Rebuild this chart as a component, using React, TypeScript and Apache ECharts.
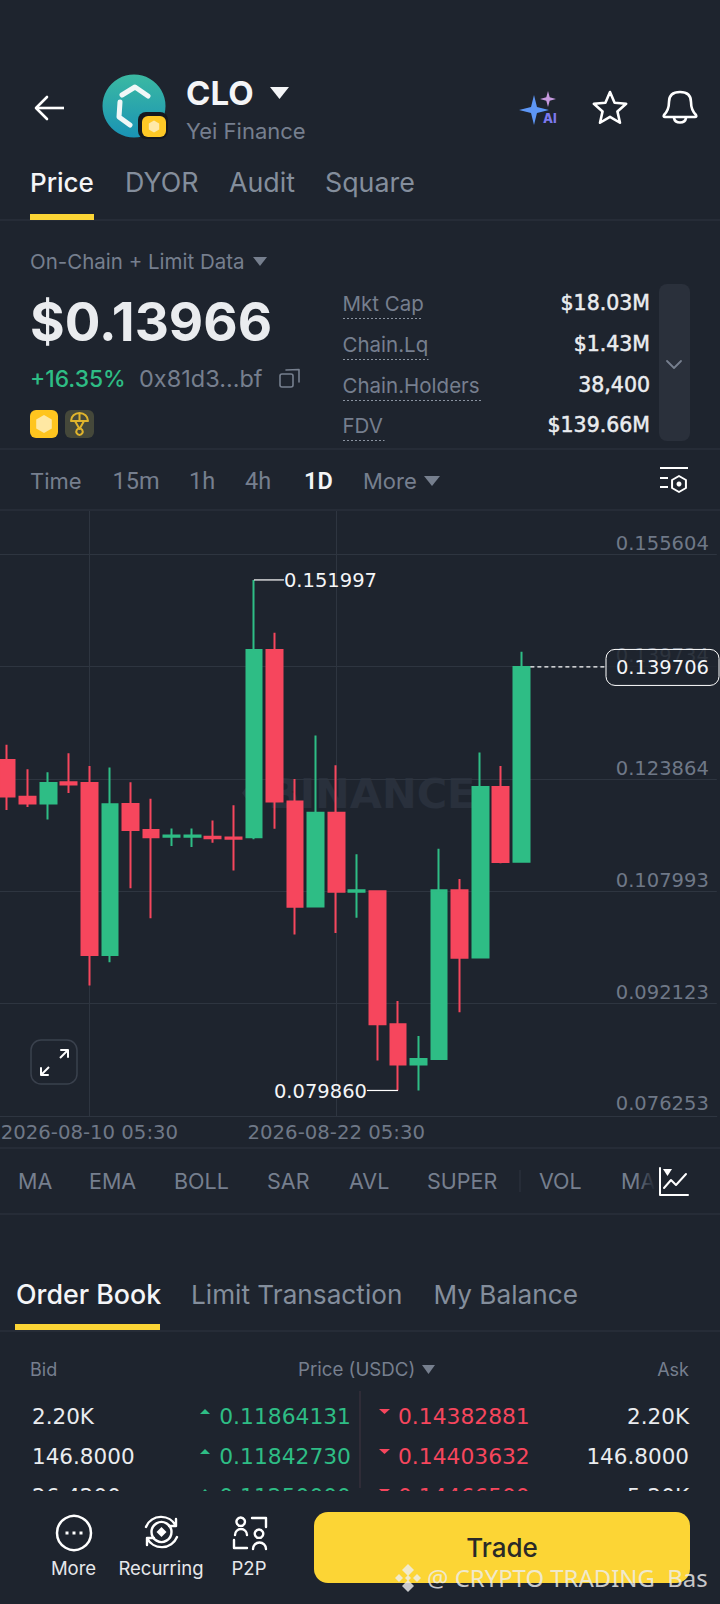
import React, { useEffect, useRef } from "react";
import * as echarts from "echarts";

// ---------- data ----------
const dates = [
  "2026-08-06 05:30","2026-08-07 05:30","2026-08-08 05:30","2026-08-09 05:30","2026-08-10 05:30",
  "2026-08-11 05:30","2026-08-12 05:30","2026-08-13 05:30","2026-08-14 05:30","2026-08-15 05:30",
  "2026-08-16 05:30","2026-08-17 05:30","2026-08-18 05:30","2026-08-19 05:30","2026-08-20 05:30",
  "2026-08-21 05:30","2026-08-22 05:30","2026-08-23 05:30","2026-08-24 05:30","2026-08-25 05:30",
  "2026-08-26 05:30","2026-08-27 05:30","2026-08-28 05:30","2026-08-29 05:30","2026-08-30 05:30",
  "2026-08-31 05:30","2026-09-01 05:30","2026-09-02 05:30","2026-09-03 05:30","2026-09-04 05:30",
  "2026-09-05 05:30","2026-09-06 05:30","2026-09-07 05:30","2026-09-08 05:30","2026-09-09 05:30",
];
const opens = [0.126546,0.12135,0.1204,0.123417,0.123305,0.098998,0.120344,0.116656,0.115706,0.115706,0.115706,0.115594,0.11565,0.142081,0.120679,0.105871,0.119114,0.107938,0.107993,0.089219,0.083519,0.084301,0.108162,0.098662,0.122747,0.112185];
const closes = [0.121405,0.1204,0.123305,0.123082,0.098998,0.120288,0.116656,0.11565,0.115874,0.115874,0.115482,0.115426,0.142081,0.120679,0.105815,0.119114,0.107938,0.108162,0.089219,0.083519,0.084301,0.108162,0.098606,0.122747,0.112129,0.139706];
const lows = [0.119506,0.119897,0.118164,0.121908,0.094695,0.097992,0.108441,0.104194,0.11442,0.114253,0.114867,0.110956,0.11537,0.116823,0.101903,0.105871,0.102127,0.10425,0.084078,0.07986,0.07986,0.084189,0.090895,0.098662,0.111962,0.112185];
const highs = [0.128726,0.125261,0.124814,0.127496,0.125708,0.125485,0.123417,0.12107,0.116879,0.116879,0.117997,0.120176,0.151997,0.14454,0.123864,0.130011,0.12582,0.113247,0.107993,0.092515,0.087542,0.114029,0.109727,0.127608,0.125708,0.141858];
const yTicks = [0.076253,0.092123,0.107993,0.123864,0.139734,0.155604];
const xLabelIndexes = [4,16];
const highMark = [12,0.151997];
const lowMark = [19,0.07986];
const lastMark = [25,0.139706];

const topTabs = ["Price","DYOR","Audit","Square"];
const intervals = ["Time","15m","1h","4h","1D","More"];
const statNames = ["Mkt Cap","Chain.Lq","Chain.Holders","FDV"];
const statValues = ["$18.03M","$1.43M","38,400","$139.66M"];
const indicators = ["MA","EMA","BOLL","SAR","AVL","SUPER","VOL","MA"];
const bookTabs = ["Order Book","Limit Transaction","My Balance"];
const bidSizes = ["2.20K","146.8000","26.4200"];
const bidPrices = ["0.11864131","0.11842730","0.11250000"];
const askPrices = ["0.14382881","0.14403632","0.14466500"];
const askSizes = ["2.20K","146.8000","5.20K"];
const footerItems = ["More","Recurring","P2P"];

// ---------- style ----------
const BG = "#1E242E";
const GRID = "#2E3540";
const GREY = "#848E9C";
const GREY2 = "#767F8E";
const WHITE = "#EAECEF";
const GREEN = "#2EBD85";
const RED = "#F6465D";
const YELLOW = "#FCD535";
const FONT = "Inter, Roboto, sans-serif";
const DJ = "'DejaVu Sans', sans-serif";
const RB = "Roboto, sans-serif";

const T = (text: string, x: number, y: number, size: number, fill: string, weight: any = 400, align = "left", font = FONT) => ({
  type: "text", x, y, silent: true,
  style: { text, fill, fontSize: size, fontWeight: weight, fontFamily: font, align, verticalAlign: "middle" },
});
const L = (x1: number, y1: number, x2: number, y2: number, stroke = GRID, lineWidth = 1, lineDash?: number[]) => ({
  type: "line", silent: true, shape: { x1, y1, x2, y2 }, style: { stroke, lineWidth, lineDash },
});
const R = (x: number, y: number, width: number, height: number, fill: any, r = 0, stroke?: string, lineWidth = 1) => ({
  type: "rect", silent: true, shape: { x, y, width, height, r }, style: { fill, stroke, lineWidth },
});
const P = (points: number[][], stroke = "#fff", lineWidth = 2.5) => ({
  type: "polyline", silent: true, shape: { points }, style: { stroke, lineWidth, fill: "none", lineCap: "round", lineJoin: "round" },
});
const Tri = (x1: number, x2: number, y1: number, y2: number, fill: string, up = false) => ({
  type: "polygon", silent: true,
  shape: { points: up ? [[x1, y2], [x2, y2], [(x1 + x2) / 2, y1]] : [[x1, y1], [x2, y1], [(x1 + x2) / 2, y2]] },
  style: { fill },
});
const C = (cx: number, cy: number, r: number, fill: any, stroke?: string, lineWidth = 2.5) => ({
  type: "circle", silent: true, shape: { cx, cy, r }, style: { fill, stroke, lineWidth },
});
const starPts = (cx: number, cy: number, ro: number, ri: number, n: number) => {
  const pts: number[][] = [];
  for (let i = 0; i < n * 2; i++) {
    const r = i % 2 ? ri : ro;
    const a = -Math.PI / 2 + (i * Math.PI) / n;
    pts.push([cx + r * Math.cos(a), cy + r * Math.sin(a)]);
  }
  return pts;
};
const Poly = (points: number[][], fill: any, stroke?: string, lineWidth = 2.5) => ({
  type: "polygon", silent: true, shape: { points }, style: { fill, stroke, lineWidth, lineJoin: "round" },
});
const Shape = (name: string, stroke: string, lineWidth: number, fill = "none") => ({
  type: name, silent: true, x: 0, y: 0, style: { stroke, lineWidth, fill, lineCap: "round", lineJoin: "round" },
});
const Hex = (cx: number, cy: number, r: number) => {
  const pts: number[][] = [];
  for (let i = 0; i < 6; i++) {
    const a = -Math.PI / 2 + (i * Math.PI) / 3;
    pts.push([cx + r * Math.cos(a), cy + r * Math.sin(a)]);
  }
  return pts;
};

echarts.graphic.registerShape("bellIcon", echarts.graphic.extendPath(
  "M664 115 C668 111 669 107 669 102 C669 95 673 92 680 92 C687 92 691 95 691 102 C691 107 692 111 696 115 Q697 117 695 117 H665 Q663 117 664 115 Z M674 118 C675 124 685 124 686 118", {}));
const p2p = "M240.7 1517.5 a4.2 4.2 0 1 0 0.01 0 Z M235 1535 a6 6 0 0 1 12 0 M252 1518 H266 V1527 M259 1529.5 a4.2 4.2 0 1 0 0.01 0 Z M253 1549 a6.5 6.5 0 0 1 13 0 M234 1540 V1548 H247";
echarts.graphic.registerShape("p2pIcon", echarts.graphic.extendPath(p2p, {}));
echarts.graphic.registerShape("paraIcon", echarts.graphic.extendPath(
  "M71 421 a8.5 8 0 0 1 17 0 Z M79.5 413 V421 M75 421 L79.5 429 L84 421 M79.5 428.5 a3.2 3.2 0 1 0 0.01 0 Z", {}));
echarts.graphic.registerShape("recurIcon", echarts.graphic.extendPath(
  "M146 1527 A16.5 16.5 0 0 1 176 1526 M177 1537 A16.5 16.5 0 0 1 147 1538 M176 1526 L176 1519 M176 1526 L169 1526 M147 1538 L147 1545 M147 1538 L154 1538", {}));

const topTabX = [30, 125, 229, 325];
const intervalX = [30, 112.5, 189, 245, 304, 363];
const statY = [303, 344, 385, 425];
const statUnder = [422, 428.5, 481, 384.5];
const indX = [18, 89, 174, 267, 349, 427, 539, 621];
const bookTabX = [16, 191, 433.5];
const rowY = [1416, 1456, 1496];
const footerX = [73.5, 161, 249];

function chromeGraphics() {
  const g: any[] = [];
  // watermark
  g.push(Poly([[252, 779], [262, 793], [252, 807], [242, 793]], "#29303C"));
  g.push(T("BINANCE", 268, 793, 41.5, "#29303C", 700, "left", DJ));
  // header
  g.push(P([[47, 97], [36, 108], [47, 119]], "#fff", 2.6), L(37, 108, 64, 108, "#fff", 2.6));
  g.push(C(134, 106, 31.5, new echarts.graphic.LinearGradient(0, 0, 0, 1, [
    { offset: 0, color: "#3BB9A2" }, { offset: 1, color: "#1A93B5" },
  ])));
  g.push(P([[122, 95], [135, 87], [148, 96]], "#F1F7F7", 5), P([[120, 102], [119, 117], [130, 125]], "#F1F7F7", 5));
  g.push(R(138, 112, 30, 27, "#15181E", 8), R(142, 116, 24, 21, "#FFC926", 6), Poly(Hex(154, 126.5, 6), "#FFE9A8"));
  g.push(T("CLO", 186, 93, 33, "#F4F5F7", 700), Tri(270, 289, 87, 99, "#F4F5F7"));
  g.push(T("Yei Finance", 186, 131, 22, GREY2));
  g.push(Poly(starPts(534, 110, 15, 4.2, 4), "#5E97F6"), Poly(starPts(548, 99, 8, 2.4, 4), "#C79ADF"));
  g.push(T("AI", 543, 118, 13, "#7C79EE", 800));
  g.push(Poly(starPts(610, 109, 17, 7.8, 5), "none", "#fff", 2.6));
  g.push(Shape("bellIcon", "#fff", 2.6));
  // top tabs
  topTabs.forEach((t, i) => g.push(T(t, topTabX[i], 182, i === 0 ? 26 : 26.8, i === 0 ? "#F4F5F7" : GREY, i === 0 ? 500 : 400)));
  g.push(L(0, 220, 720, 220));
  g.push(R(30, 214, 64, 6, YELLOW));
  // price block
  g.push(T("On-Chain + Limit Data", 30, 261, 20.5, GREY2), Tri(253, 267, 257, 266, GREY2));
  g.push(T("$0.13966", 30, 322, 53, WHITE, 700));
  g.push(T("+16.35%", 30, 378, 22.8, GREEN, 500), T("0x81d3...bf", 139, 378, 23.5, GREY2));
  g.push(R(280, 374, 13, 13, "none", 2, GREY2, 1.6), P([[286, 370], [299, 369.5], [299, 382]], GREY2, 1.6));
  g.push(R(30, 410, 28, 28, "#FFC51F", 6), Poly(Hex(44, 424, 9), "#FFE8A3"));
  g.push(R(65, 410, 29, 28, "#45483A", 6), Shape("paraIcon", "#E0B42C", 2));
  statNames.forEach((t, i) => {
    g.push(T(t, 342.5, statY[i], 20.5, GREY2));
    g.push(L(343, statY[i] + 15.5, statUnder[i], statY[i] + 15.5, "#8A93A0", 1, [2, 2]));
    const val: any = T(statValues[i], 650, statY[i], 20.5, WHITE, 400, "right", DJ);
    val.style.stroke = WHITE;
    val.style.lineWidth = 0.5;
    g.push(val);
  });
  g.push(R(659, 284, 31, 157, "#2A303B", 8), P([[667, 361], [674, 368], [681, 361]], GREY2, 1.8));
  g.push(L(0, 449, 720, 449));
  // interval row
  intervals.forEach((t, i) => {
    const numeric = i >= 1 && i <= 4;
    g.push(T(t, intervalX[i], 481, numeric ? 23.5 : 22, i === 4 ? "#F4F5F7" : GREY2, i === 4 ? 600 : 400, "left", numeric ? RB : FONT));
  });
  g.push(Tri(424, 440, 476, 486, GREY2));
  g.push(L(660, 468, 688, 468, "#fff", 2), L(660, 478, 668, 478, "#fff", 2), L(660, 487, 668, 487, "#fff", 2));
  g.push(Poly(Hex(679, 484, 8), "none", "#fff", 2), C(679, 484, 2.5, "#fff"));
  g.push(L(0, 510, 720, 510));
  // expand button
  g.push(R(31, 1040, 46, 44, BG, 10, "#3A414D", 1.5));
  g.push(L(60, 1058, 68, 1050, "#fff", 2), P([[61, 1050], [68, 1050], [68, 1057]], "#fff", 2));
  g.push(L(41, 1075, 49, 1067, "#fff", 2), P([[41, 1068], [41, 1075], [48, 1075]], "#fff", 2));
  // indicators
  g.push(L(0, 1148, 720, 1148));
  indicators.forEach((t, i) => g.push(T(t, indX[i], 1181, 21.5, GREY2)));
  g.push(L(520, 1170, 520, 1192));
  g.push(R(636, 1165, 24, 32, new echarts.graphic.LinearGradient(0, 0, 1, 0, [
    { offset: 0, color: "rgba(30,36,46,0)" }, { offset: 0.8, color: BG },
  ])));
  g.push(P([[660, 1168], [660, 1195], [688, 1195]], "#fff", 2), P([[664, 1188], [671, 1180], [676, 1185], [686, 1174]], "#fff", 2));
  g.push(Tri(663, 672, 1169, 1176, "#fff"));
  g.push(L(0, 1214, 720, 1214));
  // order book
  bookTabs.forEach((t, i) => g.push(T(t, bookTabX[i], 1294, i === 0 ? 26.8 : 26.2, i === 0 ? "#F4F5F7" : GREY, i === 0 ? 500 : 400)));
  g.push(L(0, 1331, 720, 1331), R(15, 1324, 145, 6, YELLOW));
  g.push(T("Bid", 30, 1369, 18, GREY2), T("Price (USDC)", 298, 1369, 18.7, GREY2), Tri(422, 435, 1365, 1374, GREY2), T("Ask", 689, 1369, 18, GREY2, 400, "right"));
  g.push(L(360, 1391, 360, 1488, "#2F2C37", 2));
  rowY.forEach((y, i) => {
    g.push(T(bidSizes[i], 32, y, 21.5, WHITE, 400, "left", DJ));
    g.push(Tri(200, 210, y - 7, y - 2, GREEN, true));
    g.push(T(bidPrices[i], 351, y, 21.8, GREEN, 400, "right", DJ));
    g.push(Tri(379, 390, y - 7, y - 2, RED));
    g.push(T(askPrices[i], 398, y, 21.8, RED, 400, "left", DJ));
    g.push(T(askSizes[i], 689, y, 21.5, WHITE, 400, "right", DJ));
  });
  // footer
  g.push(R(0, 1491, 720, 113, BG));
  g.push(C(74, 1533, 17, "none", "#fff", 2.5));
  [67, 74, 81].forEach((x) => g.push(R(x - 1.5, 1531.5, 3, 3, "#fff")));
  g.push(Shape("recurIcon", "#fff", 2.4), C(161.5, 1532, 10, "none", "#fff", 2.4), Poly([[161.5, 1527], [166.5, 1532], [161.5, 1537], [156.5, 1532]], "#fff"));
  g.push(Shape("p2pIcon", "#fff", 2.4));
  footerItems.forEach((t, i) => g.push(T(t, footerX[i], 1568, 18.5, "#E6E8EB", 400, "center")));
  g.push(R(314, 1512, 376, 71, "#FCD535", 14));
  g.push(T("Trade", 502, 1547, 26, "#2A2A28", 500, "center"));
  // footer watermark
  const wm = "rgba(238,238,238,0.82)";
  g.push(Poly([[408, 1564], [414, 1570], [408, 1576], [402, 1570]], wm), Poly([[408, 1580], [414, 1586], [408, 1592], [402, 1586]], wm));
  g.push(Poly([[399, 1574], [403, 1578], [399, 1582], [395, 1578]], wm), Poly([[417, 1574], [421, 1578], [417, 1582], [413, 1578]], wm), Poly([[408, 1575], [411, 1578], [408, 1581], [405, 1578]], wm));
  g.push(T("@ CRYPTO TRADING  Bas", 427, 1577, 23.9, wm, 400, "left", "'Noto Sans', sans-serif"));
  return g;
}

const candleData = opens.map((o, i) => [o, closes[i], lows[i], highs[i]]);
const markData = [highMark, lowMark];

export default function App() {
  const ref = useRef<HTMLDivElement>(null);
  useEffect(() => {
    document.body.style.margin = "0";
    document.body.style.background = BG;
    const chart = echarts.init(ref.current!, undefined, { renderer: "svg" });
    const yStep = (yTicks[5] - yTicks[0]) / 5;
    const labelFont = { fontFamily: DJ, fontSize: 19.5 };
    chart.setOption({
      animation: false,
      backgroundColor: BG,
      graphic: { elements: chromeGraphics() },
      grid: { left: -3.2, width: 720, top: 511, bottom: 488, containLabel: false, outerBoundsMode: "none" },
      xAxis: {
        type: "category", data: dates, boundaryGap: true,
        axisLine: { show: true, lineStyle: { color: GRID, width: 1 } },
        axisTick: { show: false },
        axisLabel: {
          fontFamily: DJ, fontSize: 19.7, color: "#6F7887", margin: 6, hideOverlap: false,
          interval: (i: number) => xLabelIndexes.includes(i),
        },
        splitLine: { show: true, alignWithLabel: true, interval: (i: number) => xLabelIndexes.includes(i), lineStyle: { color: GRID, width: 1 } },
      },
      yAxis: {
        type: "value", position: "right", scale: true,
        min: yTicks[0], max: yTicks[5] + yStep * (43.4 / 112.3),
        axisLine: { show: false },
        axisTick: { show: false, customValues: yTicks },
        axisLabel: {
          ...labelFont, color: "#6F7887", inside: true, margin: 8, align: "right", verticalAlign: "bottom",
          padding: [0, 0, 0, 0], lineHeight: 22,
          customValues: yTicks,
          formatter: (v: number) => (v === yTicks[0] ? `{low|${v.toFixed(6)}}` : v.toFixed(6)),
          rich: { low: { ...labelFont, color: "#6F7887", lineHeight: 22, padding: [0, 0, 3, 0] } },
        },
        splitLine: { show: true, lineStyle: { color: GRID, width: 1 } },
      },
      series: [
        {
          type: "candlestick", data: candleData, barWidth: 16.3,
          itemStyle: { color: GREEN, color0: RED, borderColor: GREEN, borderColor0: RED, borderWidth: 2 },
          z: 2,
        },
        {
          type: "custom", data: markData, clip: false, z: 5, silent: true,
          encode: { x: 0, y: 1 },
          renderItem: (params: any, api: any) => {
            const p = api.coord([api.value(0), api.value(1)]);
            const right = params.dataIndex === 0;
            const end = right ? p[0] + 30 : p[0] - 31;
            return {
              type: "group",
              children: [
                { type: "line", shape: { x1: p[0], y1: p[1], x2: end, y2: p[1] }, style: { stroke: "#fff", lineWidth: 1.2 } },
                {
                  type: "text", x: end, y: p[1] + 1,
                  style: { text: api.value(1).toFixed(6), fill: "#F4F5F7", fontSize: 19.5, fontFamily: DJ, align: right ? "left" : "right", verticalAlign: "middle" },
                },
              ],
            };
          },
        },
        {
          type: "custom", data: [lastMark], clip: false, z: 6, silent: true,
          encode: { x: 0, y: 1 },
          renderItem: (_: any, api: any) => {
            const p = api.coord([api.value(0), api.value(1)]);
            return {
              type: "group",
              children: [
                { type: "line", shape: { x1: p[0] + 9, y1: p[1], x2: 606, y2: p[1] }, style: { stroke: "#fff", lineWidth: 1.2, lineDash: [4, 3] } },
                { type: "rect", shape: { x: 606, y: p[1] - 17.5, width: 113, height: 36, r: 9 }, style: { fill: "rgba(30,36,46,0.82)", stroke: "#fff", lineWidth: 1 } },
                {
                  type: "text", x: 709, y: p[1] + 1,
                  style: { text: api.value(1).toFixed(6), fill: "#F4F5F7", fontSize: 19.5, fontFamily: DJ, align: "right", verticalAlign: "middle" },
                },
              ],
            };
          },
        },
      ],
    });
    return () => chart.dispose();
  }, []);
  return <div ref={ref} style={{ position: "absolute", left: 0, top: 0, width: 720, height: 1604 }} />;
}
